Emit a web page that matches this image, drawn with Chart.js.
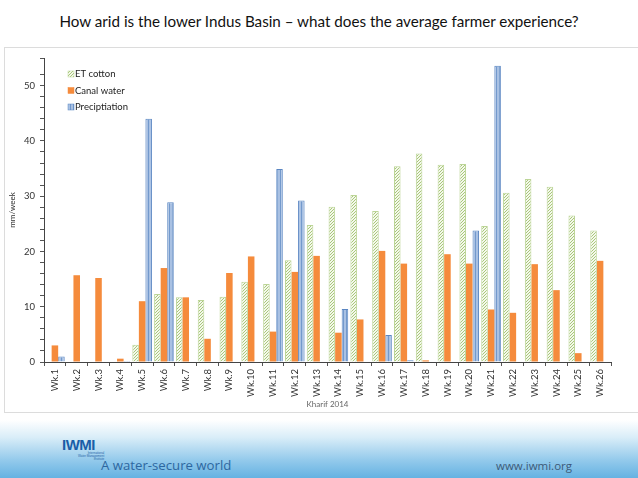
<!DOCTYPE html>
<html>
<head>
<meta charset="utf-8">
<script src="https://cdn.jsdelivr.net/npm/chart.js@4"></script>
<style>
  html, body { margin:0; padding:0; width:638px; height:478px; overflow:hidden; background:#fff; }
  #title { position:absolute; left:0; top:12px; width:638px; text-align:center; font-family:Lato, "Open Sans", sans-serif; font-size:15.2px; color:#111; }
  #frame { position:absolute; left:4px; top:47px; width:660px; height:366px; border:1px solid #dcdcdc; box-sizing:border-box; }
  #wrap { position:absolute; left:0; top:0; width:638px; height:478px; }
  #footer { position:absolute; left:0; top:420px; width:638px; height:58px;
    background:linear-gradient(to bottom, #ffffff 0%, #d9edf8 30%, #92c9eb 70%, #65b2e2 100%); }
  #logo { position:absolute; left:62px; top:436px; font-family:"Liberation Sans", Arial, sans-serif; font-weight:bold; font-size:15px; color:#1a5ea8; letter-spacing:-0.5px; }
  #logosub { position:absolute; left:78px; top:452px; font-family:"Liberation Sans", sans-serif; font-size:3px; color:#2a66a8; line-height:3px; text-align:right; }
  #slogan { position:absolute; left:101px; top:456px; font-family:"Open Sans", sans-serif; font-size:13.2px; color:#2d67a0; }
  #url { position:absolute; left:496px; top:458px; font-family:"Open Sans", sans-serif; font-size:11.5px; color:#3d5a78; }
</style>
</head>
<body>
<div id="title">How arid is the lower Indus Basin – what does the average farmer experience?</div>
<div id="frame"></div>
<div id="footer"></div>
<div id="logo">IWMI</div>
<div id="logosub">International<br>Water Management<br>Institute</div>
<div id="slogan">A water-secure world</div>
<div id="url">www.iwmi.org</div>
<div id="wrap"><canvas id="c" width="638" height="478"></canvas></div>
<script>
const weeks = ['Wk.1','Wk.2','Wk.3','Wk.4','Wk.5','Wk.6','Wk.7','Wk.8','Wk.9','Wk.10','Wk.11','Wk.12','Wk.13','Wk.14','Wk.15','Wk.16','Wk.17','Wk.18','Wk.19','Wk.20','Wk.21','Wk.22','Wk.23','Wk.24','Wk.25','Wk.26'];
const etCotton = [null,null,null,null,3.1,12.3,11.7,11.2,11.8,14.5,14.1,18.4,24.8,28.1,30.2,27.3,35.4,37.7,35.7,35.8,24.6,30.6,33.1,31.7,26.5,23.8];
const canalWater = [3.0,15.7,15.2,0.6,11.0,17.0,11.7,4.2,16.1,19.1,5.5,16.3,19.2,5.3,7.7,20.1,17.8,0.3,19.5,17.8,9.5,8.9,17.7,13.0,1.6,18.3];
const precipitation = [1.0,null,null,0.2,44.0,28.9,null,null,null,null,34.9,29.2,null,9.6,null,4.9,0.3,null,null,23.8,53.6,null,null,null,null,null];
const seriesNames = ['ET cotton','Canal water','Preciptiation'];
const xTitle = 'Kharif 2014';
const yTitle = 'mm/week';

function hatchPattern() {
  const c = document.createElement('canvas'); c.width = 3; c.height = 3;
  const g = c.getContext('2d');
  g.fillStyle = '#f4f8ec'; g.fillRect(0,0,3,3);
  g.fillStyle = '#a9c77a';
  g.fillRect(2,0,1,1); g.fillRect(1,1,1,1); g.fillRect(0,2,1,1);
  return g.createPattern(c, 'repeat');
}
function stripePattern() {
  const c = document.createElement('canvas'); c.width = 3; c.height = 3;
  const g = c.getContext('2d');
  g.fillStyle = '#a9c1e3'; g.fillRect(0,0,3,3);
  g.fillStyle = '#7399cc'; g.fillRect(1,0,1,3);
  return g.createPattern(c, 'repeat');
}

const legendPlugin = {
  id: 'insideLegend',
  afterDraw(chart) {
    const ctx = chart.ctx, a = chart.chartArea;
    ctx.save();
    ctx.font = '9.5px Lato, "Open Sans", sans-serif';
    ctx.textBaseline = 'middle';
    chart.data.datasets.forEach((ds, i) => {
      const x = a.left + 24, y = a.top + 16 + i * 16.5;
      ctx.fillStyle = ds.backgroundColor;
      ctx.fillRect(x, y - 3, 6, 6);
      ctx.strokeStyle = ds.borderColor; ctx.lineWidth = 0.5;
      ctx.strokeRect(x, y - 3, 6, 6);
      ctx.fillStyle = '#222';
      ctx.fillText(ds.label, x + 7, y);
    });
    ctx.restore();
  }
};

new Chart(document.getElementById('c'), {
  type: 'bar',
  data: {
    labels: weeks,
    datasets: [
      { label: seriesNames[0], data: etCotton, backgroundColor: hatchPattern(), borderColor: '#bcd597', borderWidth: 1 },
      { label: seriesNames[1], data: canalWater, backgroundColor: '#f58b3c', borderColor: '#f58b3c', borderWidth: 0 },
      { label: seriesNames[2], data: precipitation, backgroundColor: stripePattern(), borderColor: '#5a86c2', borderWidth: 1 }
    ]
  },
  options: {
    responsive: false,
    animation: false,
    layout: { padding: { left: 4, right: 27, top: 58, bottom: 68 } },
    datasets: { bar: { categoryPercentage: 0.9, barPercentage: 1.0 } },
    plugins: { legend: { display: false }, tooltip: { enabled: false } },
    scales: {
      x: {
        afterFit(s) { s.height = 48; },
        grid: { display: true, drawOnChartArea: false, drawTicks: true, tickLength: 4, color: '#555', offset: true },
        border: { display: true, color: '#444', width: 1 },
        ticks: { minRotation: 90, maxRotation: 90, autoSkip: false, padding: 3, color: '#333', font: { size: 9.5, family: 'Lato, "Open Sans", sans-serif' } },
        title: { display: true, text: xTitle, color: '#666', font: { size: 8, family: 'Lato, "Open Sans", sans-serif' }, padding: { top: 0, bottom: 1 } }
      },
      y: {
        min: 0, max: 55,
        afterFit(s) { s.width = 40; },
        grid: { display: true, drawOnChartArea: false, drawTicks: true, tickLength: 4, color: '#555' },
        border: { display: true, color: '#444', width: 1 },
        ticks: { stepSize: 2, autoSkip: false, padding: 5, color: '#333', font: { size: 9.5, family: 'Lato, "Open Sans", sans-serif' },
          callback: v => (v % 10 === 0 ? String(v) : '') },
        title: { display: true, text: yTitle, color: '#333', font: { size: 8, family: 'Lato, "Open Sans", sans-serif' }, padding: { top: 4, bottom: 0 } }
      }
    }
  },
  plugins: [legendPlugin]
});
</script>
</body>
</html>
